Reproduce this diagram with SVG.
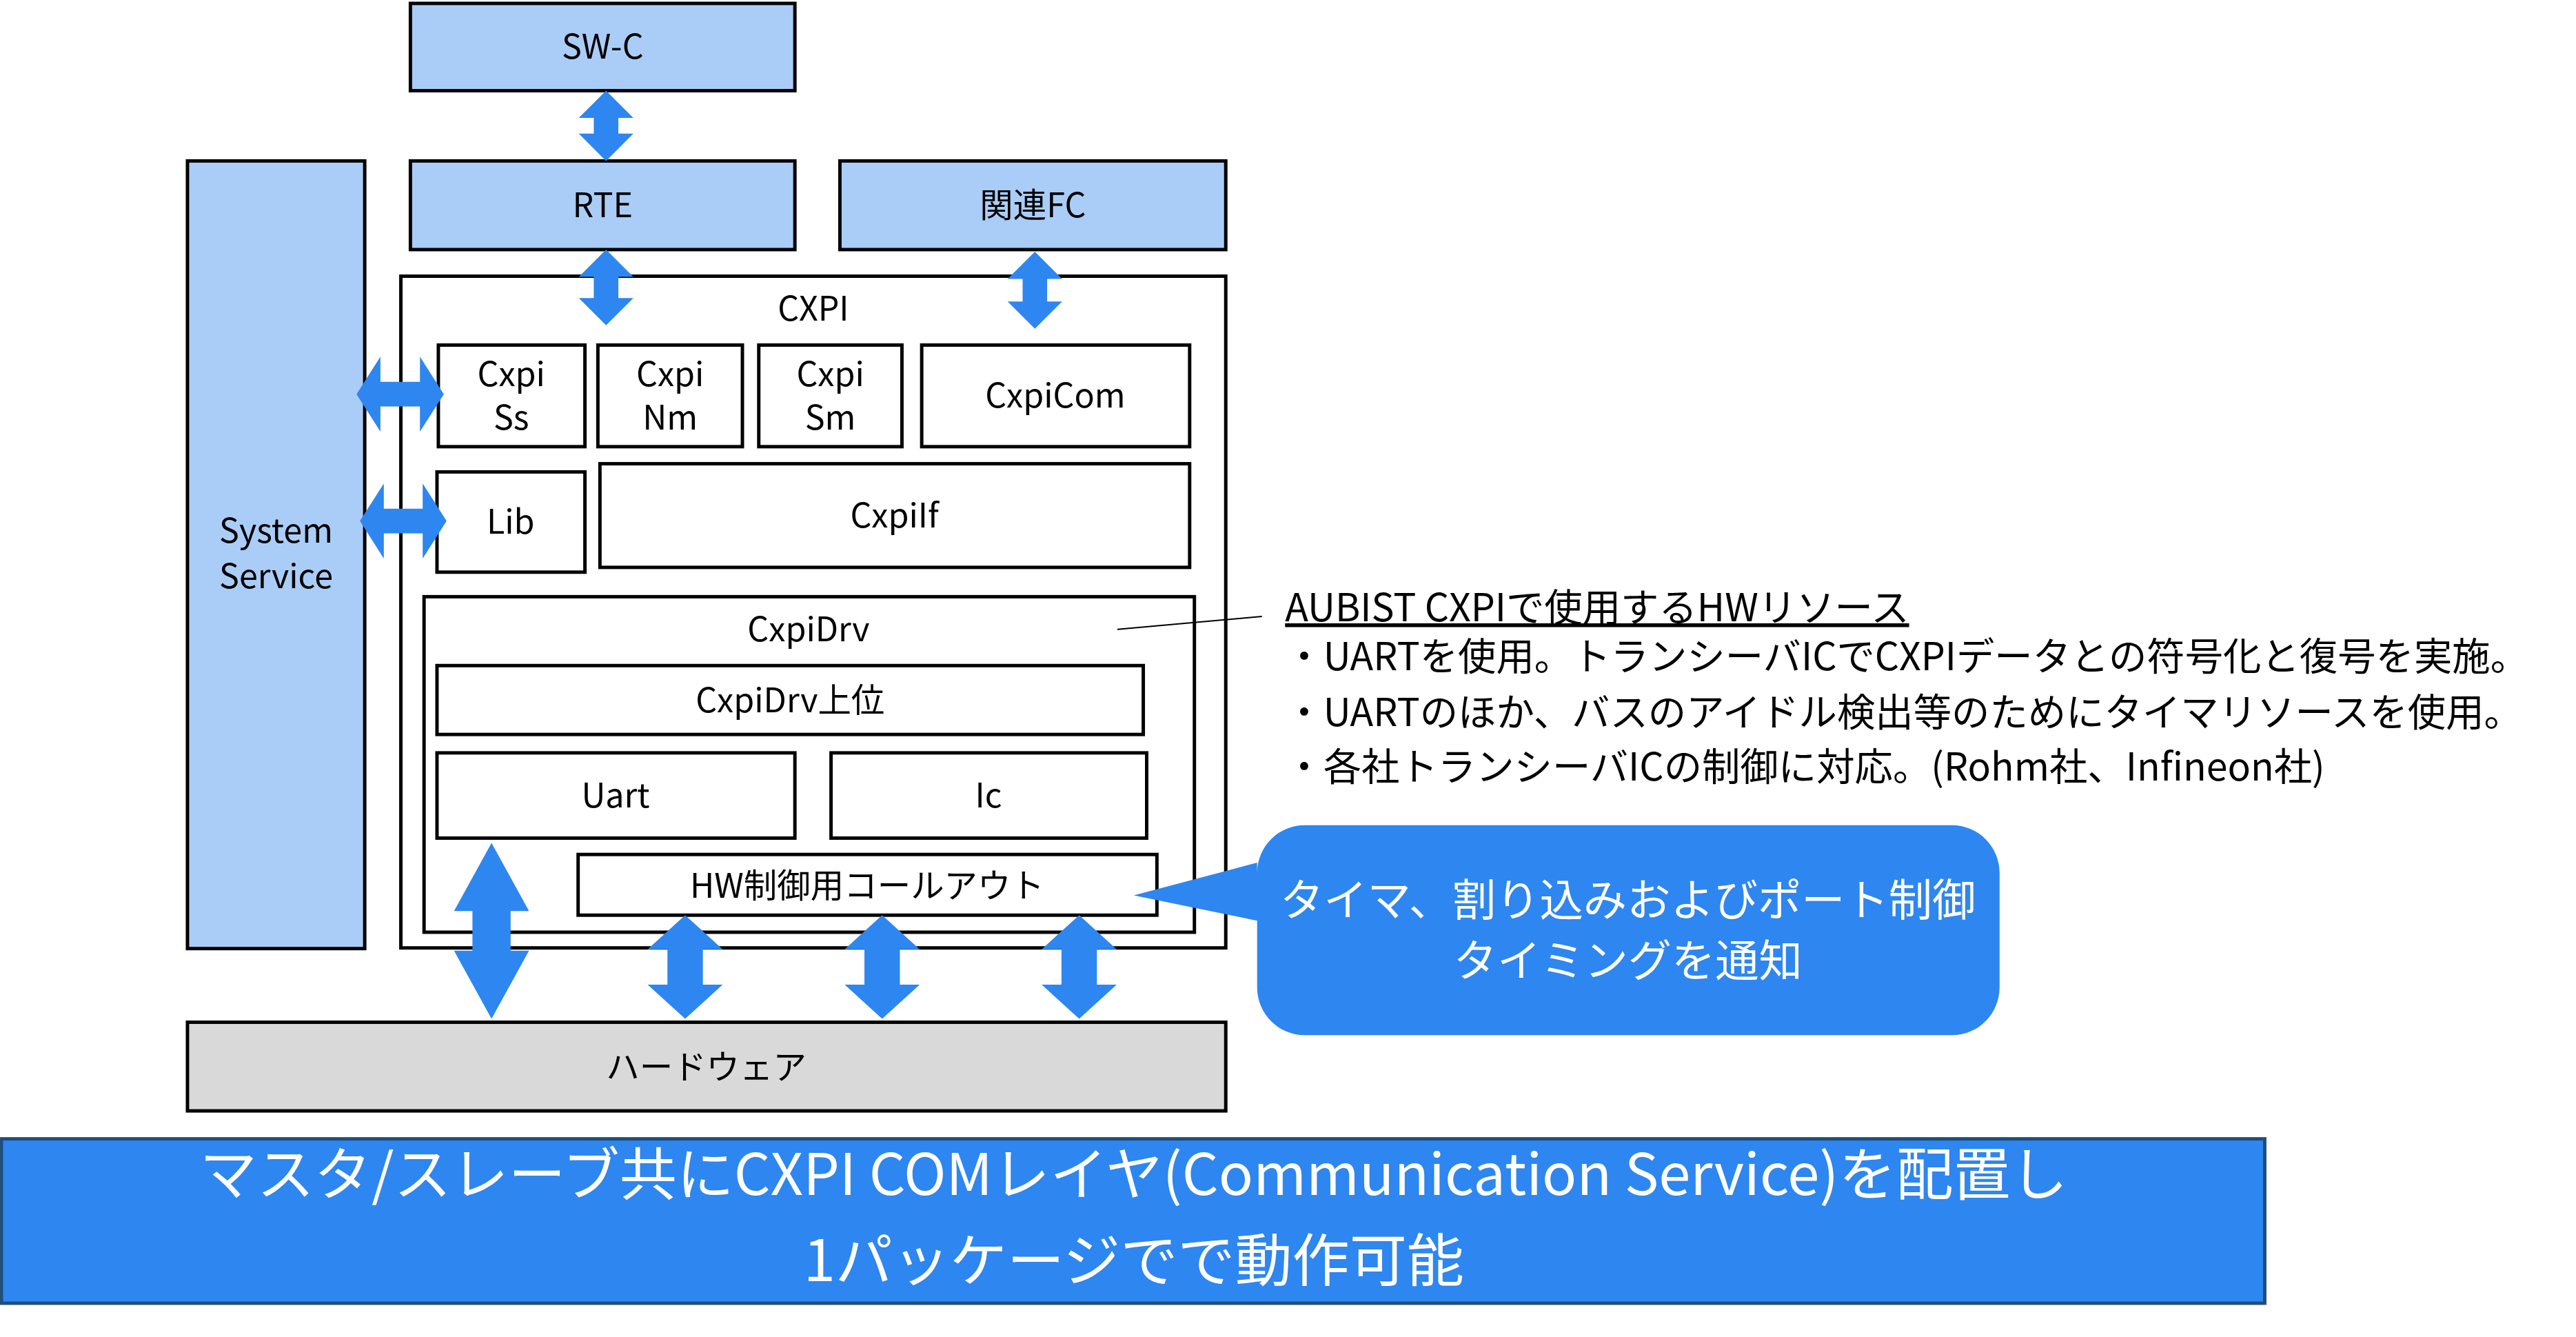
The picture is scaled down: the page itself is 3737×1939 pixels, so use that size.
<svg xmlns="http://www.w3.org/2000/svg" width="3737" height="1939" viewBox="0 0 3737 1939">
<style>
.b{fill:#aacdf8;stroke:#000;stroke-width:5}
.w{fill:#fff;stroke:#000;stroke-width:5}
.t{font-family:"Noto Sans CJK JP","Noto Sans",sans-serif;font-size:49px;text-anchor:middle;fill:#000}
.a{fill:#2e86f0}
.n{font-family:"Noto Sans CJK JP","Noto Sans",sans-serif;font-size:56px;fill:#000}
.wt{font-family:"Noto Sans CJK JP","Noto Sans",sans-serif;fill:#fff;text-anchor:middle}
</style>
<rect width="3737" height="1939" fill="#fff"/>
<g transform="scale(0.989)">
<g id="swc"><rect class="b" x="602" y="5" width="564" height="128"/><text class="t" x="884" y="86">SW-C</text></g>
<g id="rte"><rect class="b" x="602" y="236" width="564" height="130"/><text class="t" x="884" y="318">RTE</text></g>
<g id="fc"><rect class="b" x="1232" y="236" width="566" height="130"/><text class="t" x="1515" y="318">関連FC</text></g>
<g id="sys"><rect class="b" x="275" y="236" width="260" height="1155"/><text class="t" x="405" y="796">System</text><text class="t" x="405" y="862">Service</text></g>
<g id="cxpi"><rect class="w" x="588" y="405" width="1210" height="985"/><text class="t" x="1193" y="470">CXPI</text></g>
<g id="ss"><rect class="w" x="643" y="506" width="215" height="149"/><text class="t" x="750" y="566">Cxpi</text><text class="t" x="750" y="630">Ss</text></g>
<g id="nm"><rect class="w" x="877" y="506" width="212" height="149"/><text class="t" x="983" y="566">Cxpi</text><text class="t" x="983" y="630">Nm</text></g>
<g id="sm"><rect class="w" x="1113" y="506" width="210" height="149"/><text class="t" x="1218" y="566">Cxpi</text><text class="t" x="1218" y="630">Sm</text></g>
<g id="com"><rect class="w" x="1352" y="506" width="393" height="149"/><text class="t" x="1548" y="598">CxpiCom</text></g>
<g id="lib"><rect class="w" x="641" y="692" width="217" height="147"/><text class="t" x="749" y="783">Lib</text></g>
<g id="if"><rect class="w" x="880" y="680" width="865" height="152"/><text class="t" x="1312" y="774">CxpiIf</text></g>
<g id="drv"><rect class="w" x="622" y="875" width="1130" height="492"/><text class="t" x="1186" y="940">CxpiDrv</text></g>
<g id="drvu"><rect class="w" x="641" y="976" width="1036" height="101"/><text class="t" x="1159" y="1044">CxpiDrv上位</text></g>
<g id="uart"><rect class="w" x="641" y="1104" width="525" height="125"/><text class="t" x="903" y="1184">Uart</text></g>
<g id="ic"><rect class="w" x="1219" y="1104" width="463" height="125"/><text class="t" x="1450" y="1184">Ic</text></g>
<g id="hwc"><rect class="w" x="848" y="1253" width="849" height="89"/><text class="t" x="1272" y="1316">HW制御用コールアウト</text></g>
<g id="hw"><rect x="275" y="1499" width="1523" height="130" fill="#d9d9d9" stroke="#000" stroke-width="5"/><text class="t" x="1036" y="1582">ハードウェア</text></g>
<g id="connectors">
<polygon class="a" points="889,133 929,173 907,173 907,196 929,196 889,236 849,196 871,196 871,173 849,173"/>
<polygon class="a" points="889,366 929,406 907,406 907,437 929,437 889,477 849,437 871,437 871,406 849,406"/>
<polygon class="a" points="1518,369 1558,409 1536,409 1536,442 1558,442 1518,482 1478,442 1500,442 1500,409 1478,409"/>
<polygon class="a" points="523,578 558,523 558,560 616,560 616,523 651,578 616,633 616,596 558,596 558,633"/>
<polygon class="a" points="528,764 563,709 563,746 620,746 620,709 655,764 620,819 620,782 563,782 563,819"/>
<polygon class="a" points="721,1236 776,1336 749,1336 749,1394 776,1394 721,1494 666,1394 693,1394 693,1336 666,1336"/>
<polygon class="a" points="1005,1342 1060,1392 1031,1392 1031,1444 1060,1444 1005,1494 950,1444 979,1444 979,1392 950,1392"/>
<polygon class="a" points="1294,1342 1349,1392 1320,1392 1320,1444 1349,1444 1294,1494 1239,1444 1268,1444 1268,1392 1239,1392"/>
<polygon class="a" points="1583,1342 1638,1392 1609,1392 1609,1444 1638,1444 1583,1494 1528,1444 1557,1444 1557,1392 1528,1392"/>
<line x1="1639" y1="923" x2="1851" y2="904" stroke="#000" stroke-width="2"/>
</g>
<g id="note">
<text class="n" x="1885" y="911" text-decoration="underline">AUBIST CXPIで使用するHWリソース</text>
<text class="n" x="1885" y="983">・UARTを使用。トランシーバICでCXPIデータとの符号化と復号を実施。</text>
<text class="n" x="1885" y="1065">・UARTのほか、バスのアイドル検出等のためにタイマリソースを使用。</text>
<text class="n" x="1885" y="1145">・各社トランシーバICの制御に対応。(Rohm社、Infineon社)</text>
</g>
<g id="callout">
<path class="a" d="M1914,1210 H2863 A70,70 0 0 1 2933,1280 V1448 A70,70 0 0 1 2863,1518 H1914 A70,70 0 0 1 1844,1448 V1350 L1663,1313 L1844,1265 V1280 A70,70 0 0 1 1914,1210 Z"/>
<text class="wt" x="2388" y="1343" font-size="64">タイマ、割り込みおよびポート制御</text>
<text class="wt" x="2388" y="1432" font-size="64">タイミングを通知</text>
</g>
<g id="banner">
<rect x="2" y="1670" width="3320" height="241" fill="#2e86f0" stroke="#1f4e79" stroke-width="5"/>
<text class="wt" x="1663" y="1752" font-size="84">マスタ/スレーブ共にCXPI COMレイヤ(Communication Service)を配置し</text>
<text class="wt" x="1663" y="1879" font-size="84">1パッケージでで動作可能</text>
</g>
</g>
</svg>
